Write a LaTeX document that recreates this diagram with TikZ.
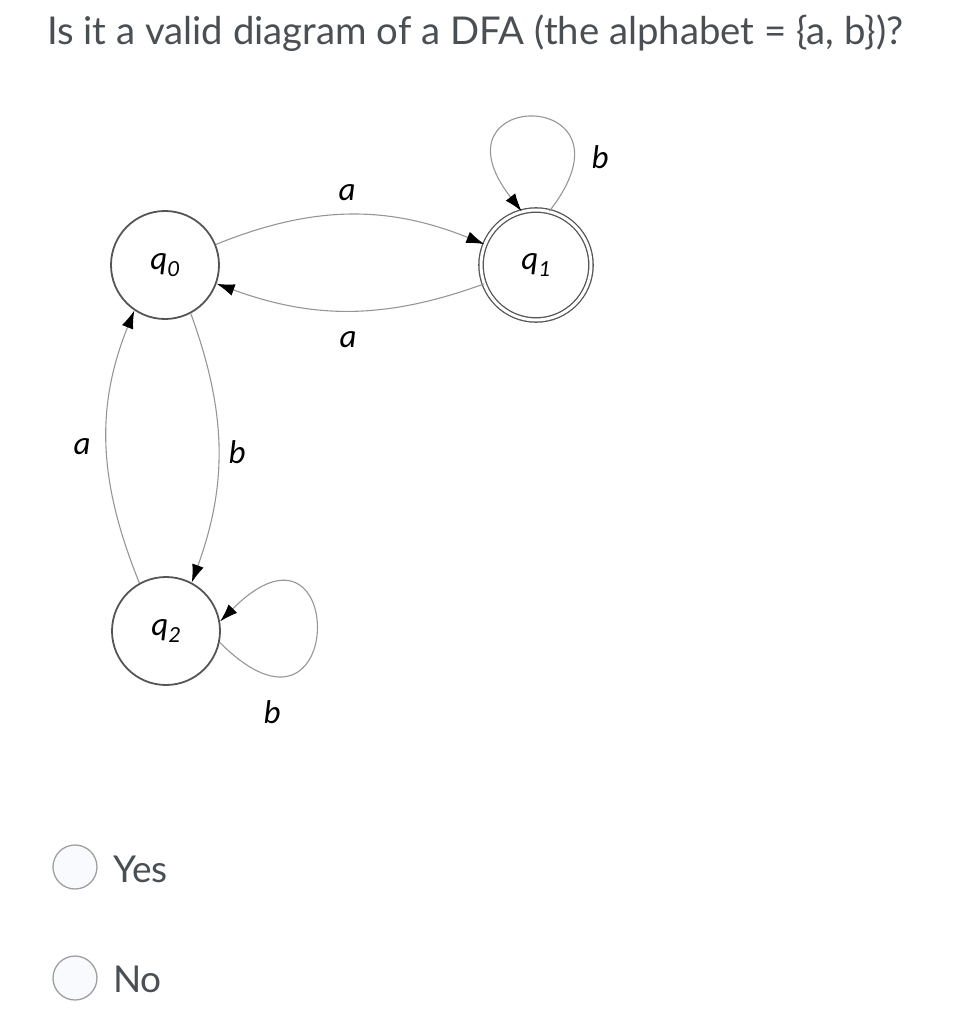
\documentclass[tikz,border=0pt]{standalone}
\usepackage{fontspec}
\setmainfont{Lato}
\newfontfamily\lblfont{Carlito}
\usetikzlibrary{arrows.meta}
\definecolor{textgray}{RGB}{74,79,84}
\definecolor{edgegray}{RGB}{150,150,150}
\definecolor{stategray}{RGB}{85,85,85}
\definecolor{radiofill}{RGB}{248,250,254}
\tikzset{
  state/.style={circle, draw=stategray, line width=1.8pt, minimum size=108pt, inner sep=0pt, font=\lblfont\itshape\fontsize{33}{33}\selectfont},
  accept/.style={state, double, double distance=3pt, line width=1.3pt, minimum size=110pt},
  edge/.style={draw=edgegray, line width=1.1pt, -{Latex[length=18pt,width=12pt,fill=black,color=black]}},
  lbl/.style={font=\lblfont\itshape\fontsize{33}{33}\selectfont},
  radio/.style={circle, draw=gray!75, fill=radiofill, line width=1.3pt, minimum size=44pt, inner sep=0pt},
  answer/.style={anchor=base west, text=textgray, font=\fontsize{37}{37}\selectfont, inner sep=0pt}
}
\begin{document}
\begin{tikzpicture}[x=1pt,y=1pt]
\useasboundingbox (0,0) rectangle (972,-1024);
\node[answer, font=\fontsize{38.3}{38.3}\selectfont] (title) at (47,-45) {Is it a valid diagram of a DFA (the alphabet = \{a, b\})?};
\node[state] (q0) at (165,-265) {q\textsubscript{0}};
\node[accept] (q1) at (536,-265) {q\textsubscript{1}};
\node[state] (q2) at (166,-631) {q\textsubscript{2}};
\draw[edge] (q0) to[bend left=22] (q1);
\draw[edge] (q1) to[bend left=20] (q0);
\draw[edge] (q0.-62) to[out=-70,in=70] (q2.62);
\draw[edge] (q2.119) to[out=112,in=-112] (q0.-124);
\draw[edge] (q1.76) .. controls +(52:158) and +(128:158) .. (q1.105);
\draw[edge] (q2.-12) .. controls +(-45:181) and +(45:181) .. (q2.10);
\node[lbl] (la1) at (347,-193) {a};
\node[lbl] (la2) at (348,-340) {a};
\node[lbl] (lb1) at (600,-157) {b};
\node[lbl] (la3) at (82,-447) {a};
\node[lbl] (lb2) at (237,-452) {b};
\node[lbl] (lb3) at (272,-712) {b};
\node[radio] (yes) at (75,-867) {};
\node[answer] (yestext) at (113,-882) {Yes};
\node[radio] (no) at (75,-978) {};
\node[answer] (notext) at (113,-992) {No};
\end{tikzpicture}
\end{document}
